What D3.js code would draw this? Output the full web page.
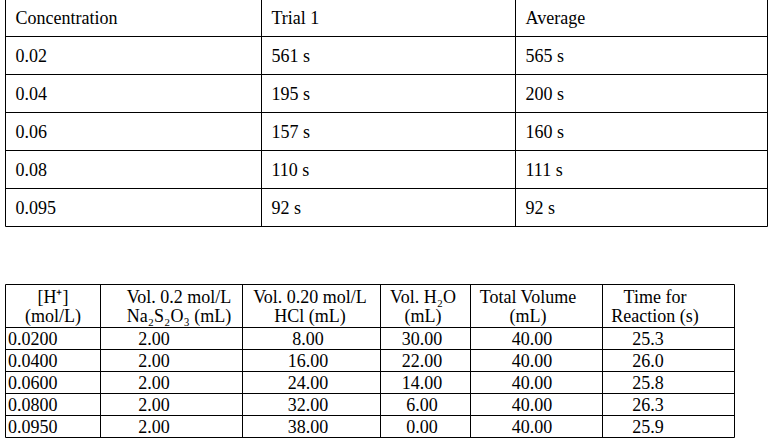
<!DOCTYPE html>
<html><head><meta charset="utf-8">
<script src="https://cdn.jsdelivr.net/npm/d3@7"></script>
<style>body{margin:0;background:#fff}text{font-family:"Liberation Serif",serif;font-size:18px;fill:#000}</style>
</head><body><svg id="c" width="768" height="447"></svg>
<script>
// table 1
const t1Header = ["Concentration", "Trial 1", "Average"];
const t1Conc = ["0.02", "0.04", "0.06", "0.08", "0.095"];
const t1Trial = ["561 s", "195 s", "157 s", "110 s", "92 s"];
const t1Avg = ["565 s", "200 s", "160 s", "111 s", "92 s"];

// table 2
const t2Header = [["[H⁺]", "(mol/L)"], ["Vol. 0.2 mol/L", "Na₂S₂O₃ (mL)"], ["Vol. 0.20 mol/L", "HCl (mL)"],
                  ["Vol. H₂O", "(mL)"], ["Total Volume", "(mL)"], ["Time for", "Reaction (s)"]];
const t2H = ["0.0200", "0.0400", "0.0600", "0.0800", "0.0950"];
const t2Na = ["2.00", "2.00", "2.00", "2.00", "2.00"];
const t2HCl = ["8.00", "16.00", "24.00", "32.00", "38.00"];
const t2Water = ["30.00", "22.00", "14.00", "6.00", "0.00"];
const t2Total = ["40.00", "40.00", "40.00", "40.00", "40.00"];
const t2Time = ["25.3", "26.0", "25.8", "26.3", "25.9"];

const svg = d3.select("#c");
const line = (g, x1, y1, x2, y2) => g.append("line").attr("x1", x1).attr("y1", y1).attr("x2", x2).attr("y2", y2)
  .attr("stroke", "#000").attr("stroke-width", 1);

// ---- table 1
const g1 = svg.append("g");
const cols1 = [5.5, 261.5, 515.5, 767.5];
const y1 = d3.scaleLinear().domain([0, 6]).range([-1.5, 226.5]);
const rows1 = [t1Header].concat(t1Conc.map((c, i) => [c, t1Trial[i], t1Avg[i]]));
for (let i = 0; i <= 6; i++) line(g1, cols1[0], y1(i), cols1[3], y1(i));
cols1.forEach(x => line(g1, x, y1(0), x, y1(6)));
rows1.forEach((r, i) => r.forEach((t, j) =>
  g1.append("text").attr("x", cols1[j] + 10).attr("y", y1(i + 0.5) + 6).text(t)));

// ---- table 2
const g2 = svg.append("g");
const cols2 = [5.5, 100.5, 242.5, 380.5, 470.5, 602.5, 734.5];
const top2 = 284.5, head2 = 327.5;
const y2 = d3.scaleLinear().domain([0, 5]).range([head2, 437.5]);
line(g2, cols2[0], top2, cols2[6], top2);
for (let i = 0; i <= 5; i++) line(g2, cols2[0], y2(i), cols2[6], y2(i));
cols2.forEach(x => line(g2, x, top2, x, y2(5)));
const hx = [53, 179, 310, 423, 528, 655];
t2Header.forEach((h, j) => h.forEach((t, k) =>
  g2.append("text").attr("x", hx[j]).attr("y", 303 + k * 19).attr("text-anchor", "middle").text(t)));
const rows2 = t2H.map((h, i) => [h, t2Na[i], t2HCl[i], t2Water[i], t2Total[i], t2Time[i]]);
const dx = [null, 154, 308, 422, 532, 648];
rows2.forEach((r, i) => r.forEach((t, j) => {
  const tx = g2.append("text").attr("y", y2(i + 0.5) + 6).text(t);
  if (j === 0) tx.attr("x", 8); else tx.attr("x", dx[j]).attr("text-anchor", "middle");
}));
</script></body></html>
